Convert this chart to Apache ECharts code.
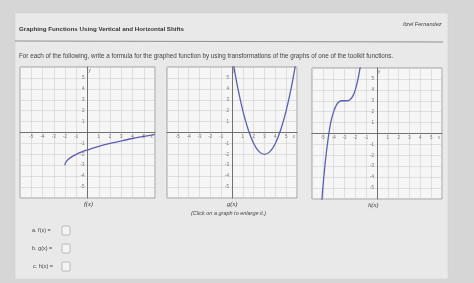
<!DOCTYPE html>
<html><head><meta charset="utf-8">
<script src="https://cdn.jsdelivr.net/npm/echarts@6/dist/echarts.min.js"></script>
<style>html,body{margin:0;padding:0;background:#d6d6d6;}#c{width:474px;height:283px;}</style>
</head><body><div id="c"></div>
<script>
// Points
const fX = [-2, -1.99, -1.96, -1.9, -1.8, -1.6, -1.3, -1, -0.5, 0, 1, 2, 3, 4, 5, 6];
const fY = [-3, -2.9, -2.8, -2.69, -2.55, -2.37, -2.16, -2, -1.78, -1.6, -1.27, -1, -0.77, -0.55, -0.36, -0.18];
const gX = [0, 0.5, 1, 1.5, 2, 2.5, 3, 3.5, 4, 4.5, 5, 5.5, 6];
const gY = [7, 4.25, 2, 0.25, -1, -1.75, -2, -1.75, -1, 0.25, 2, 4.25, 7];
const hX = [-5.2, -5, -4.75, -4.5, -4.25, -4, -3.75, -3.5, -3.25, -3, -2.75, -2.5, -2.25, -2, -1.75, -1.5, -1.3];
const hY = [-7.6, -5, -2.4, -0.4, 1.1, 2, 2.6, 2.9, 3, 3, 3, 3.1, 3.4, 4, 5, 6.4, 7.9];
const tickLabels = [-5, -4, -3, -2, -1, 1, 2, 3, 4, 5];
const axisMin = -6, axisMax = 6;

const boxes = [
  {left: 20, top: 67, width: 135, height: 131},
  {left: 167, top: 67, width: 130, height: 131},
  {left: 312, top: 68, width: 130, height: 131}
];
const curves = [[fX, fY], [gX, gY], [hX, hY]];
const lineColor = '#5b5fb3';
const lblStyle = {fontSize: 4.5, color: '#555', fontFamily: 'Liberation Sans'};

const grids = [], xAxes = [], yAxes = [], series = [];
boxes.forEach((b, i) => {
  grids.push({left: b.left, top: b.top, width: b.width, height: b.height,
    show: true, backgroundColor: '#f6f6f6', borderColor: '#8a8a8a', borderWidth: 0.8});
  const common = {gridIndex: i, type: 'value', min: axisMin, max: axisMax, interval: 1,
    axisLine: {onZero: true, lineStyle: {color: '#555', width: 0.8}},
    axisTick: {show: false},
    splitLine: {show: true, lineStyle: {color: '#d0d0d0', width: 0.6}},
    axisLabel: {show: false}};
  xAxes.push(Object.assign({}, common));
  yAxes.push(Object.assign({}, common));
  const [xs, ys] = curves[i];
  series.push({type: 'line', xAxisIndex: i, yAxisIndex: i, smooth: 0.3, symbol: 'none',
    clip: true, lineStyle: {color: lineColor, width: 1.3},
    data: xs.map((x, k) => [x, ys[k]])});
  // tick labels along the zero axes
  series.push({type: 'scatter', xAxisIndex: i, yAxisIndex: i, symbolSize: 0, silent: true,
    label: Object.assign({show: true, position: 'bottom', distance: 2, formatter: p => String(p.value[0])}, lblStyle),
    data: tickLabels.map(v => [v, 0])});
  series.push({type: 'scatter', xAxisIndex: i, yAxisIndex: i, symbolSize: 0, silent: true,
    label: Object.assign({show: true, position: 'left', distance: 3, formatter: p => String(p.value[1])}, lblStyle),
    data: tickLabels.map(v => [0, v])});
  series.push({type: 'scatter', xAxisIndex: i, yAxisIndex: i, symbolSize: 0, silent: true,
    label: Object.assign({show: true, position: 'right', distance: 1, formatter: 'y', fontStyle: 'italic'}, lblStyle),
    data: [[0, axisMax - 0.3]]});
  series.push({type: 'scatter', xAxisIndex: i, yAxisIndex: i, symbolSize: 0, silent: true,
    label: Object.assign({show: true, position: 'bottom', distance: 2, formatter: 'x', fontStyle: 'italic'}, lblStyle),
    data: [[axisMax - 0.3, 0]]});
});

const txt = (x, y, text, opts) => ({type: 'text', left: x, top: y, silent: true,
  style: Object.assign({text: text, fill: '#333', fontSize: 6, fontFamily: 'Liberation Sans'}, opts || {})});

const graphic = [
  {type: 'rect', shape: {x: 15, y: 13, width: 433, height: 266}, style: {fill: '#e9e9e9', stroke: '#cfcfcf', lineWidth: 0.5}, z: -10},
  {type: 'line', shape: {x1: 15, y1: 41, x2: 443, y2: 42}, style: {stroke: '#777', lineWidth: 0.8}},
  txt(19, 26, 'Graphing Functions Using Vertical and Horizontal Shifts', {fontWeight: 'bold', fill: '#333', fontSize: 6.2}),
  txt(403, 21, 'Itzel Fernandez', {fontStyle: 'italic', fontSize: 5.6, fill: '#444'}),
  txt(19, 53, 'For each of the following, write a formula for the graphed function by using transformations of the graphs of one of the toolkit functions.', {fontSize: 6.3, fill: '#444'}),
  txt(84, 201, 'f(x)', {fontStyle: 'italic', fontSize: 6.5, fontFamily: 'Liberation Serif'}),
  txt(227, 201, 'g(x)', {fontStyle: 'italic', fontSize: 6.5, fontFamily: 'Liberation Serif'}),
  txt(191, 210, '(Click on a graph to enlarge it.)', {fontStyle: 'italic', fontSize: 5.5, fill: '#444'}),
  txt(368, 202, 'h(x)', {fontStyle: 'italic', fontSize: 6.5, fontFamily: 'Liberation Serif'}),
  txt(32, 227, 'a. f(x) =', {fontSize: 5.5, fill: '#444'}),
  txt(32, 245, 'b. g(x) =', {fontSize: 5.5, fill: '#444'}),
  txt(33, 263, 'c. h(x) =', {fontSize: 5.5, fill: '#444'}),
  {type: 'rect', shape: {x: 62, y: 226, width: 8, height: 9, r: 1}, style: {fill: '#f4f4f4', stroke: '#999', lineWidth: 0.6}},
  {type: 'rect', shape: {x: 62, y: 244, width: 8, height: 9, r: 1}, style: {fill: '#f4f4f4', stroke: '#999', lineWidth: 0.6}},
  {type: 'rect', shape: {x: 62, y: 262, width: 8, height: 9, r: 1}, style: {fill: '#f4f4f4', stroke: '#999', lineWidth: 0.6}}
];

const chart = echarts.init(document.getElementById('c'), null, {renderer: 'canvas'});
chart.setOption({animation: false, backgroundColor: '#d6d6d6', grid: grids, xAxis: xAxes, yAxis: yAxes, series: series, graphic: graphic});
</script></body></html>
